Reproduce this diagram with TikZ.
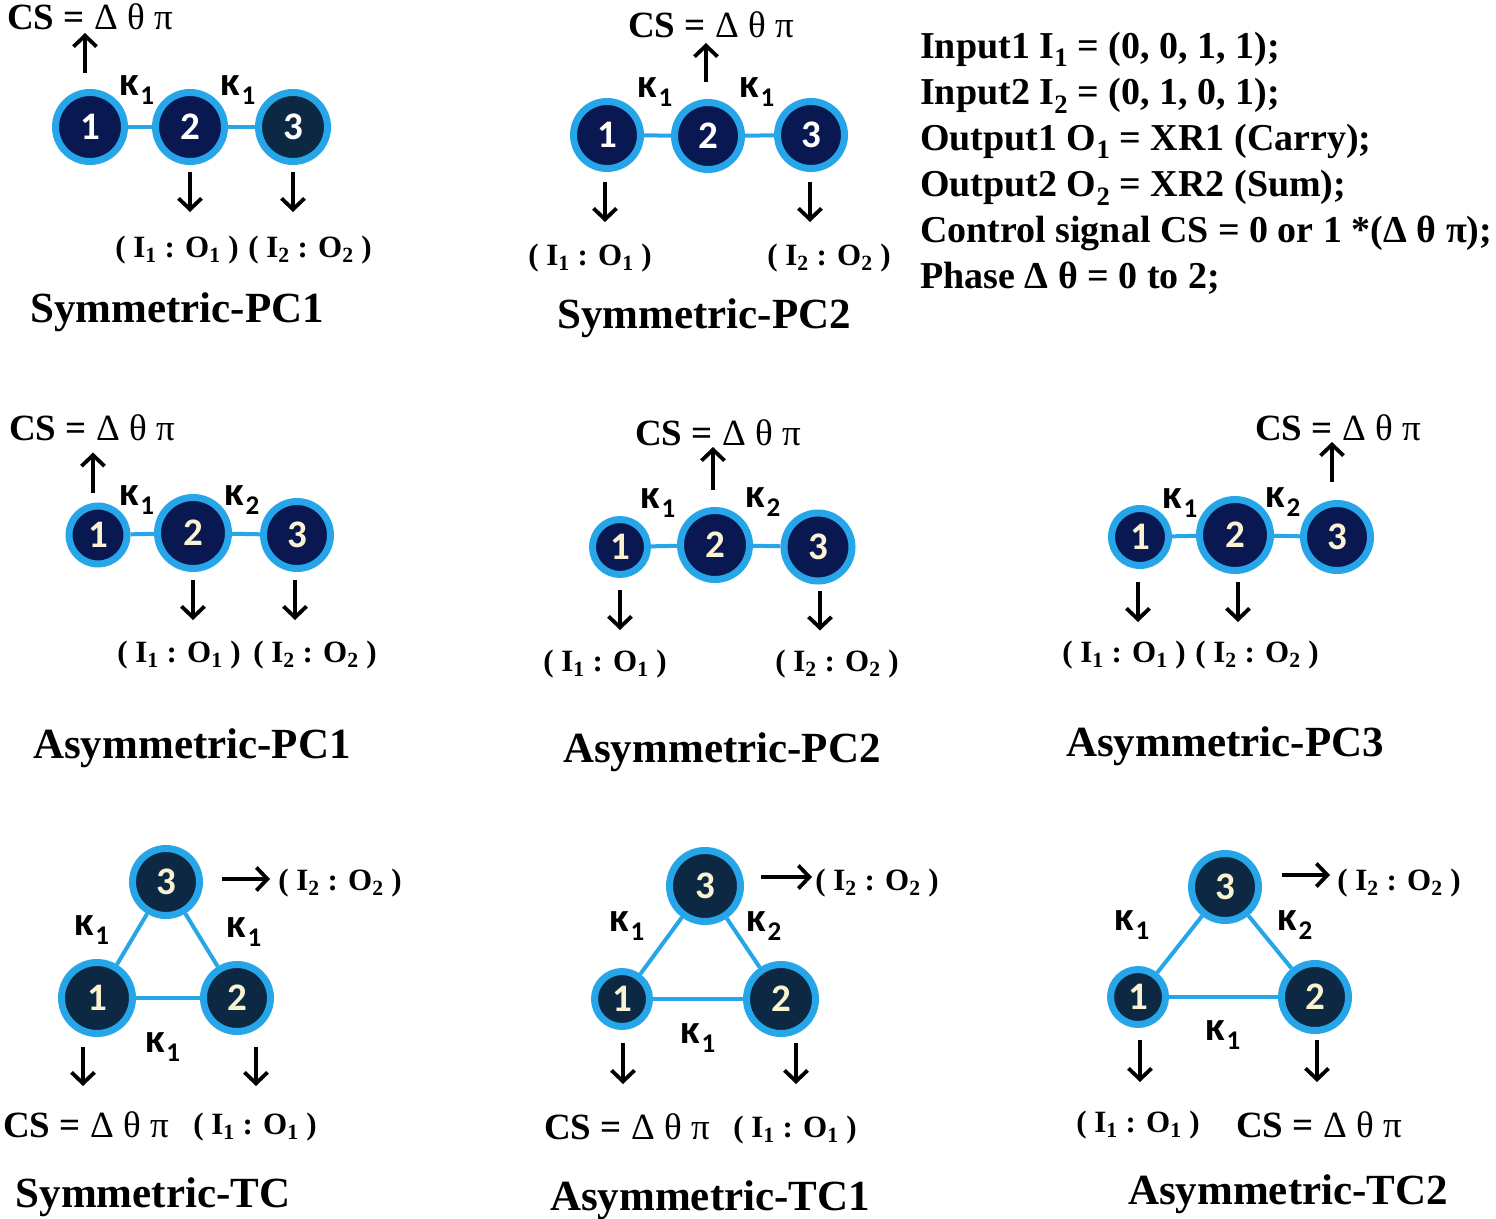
\documentclass[tikz,border=0pt]{standalone}
\usepackage{fontspec}
\setmainfont{Liberation Serif}
\newfontfamily\carl{Carlito}
\usetikzlibrary{arrows.meta}
\definecolor{ringblue}{RGB}{38,166,232}
\definecolor{navyA}{RGB}{10,24,82}
\definecolor{navyB}{RGB}{12,40,66}
\definecolor{creamT}{RGB}{250,242,208}
\newcommand{\kp}[1]{κ\hspace{1pt}\raisebox{-0.22em}{\fontsize{27}{27}\selectfont #1}}
\newcommand{\iol}[1]{( I\textsubscript{#1} : O\textsubscript{#1} )}
\newcommand{\csl}{CS = {\mdseries Δ θ π}}
\tikzset{
  res/.style={circle, draw=ringblue, line width=7pt, inner sep=0pt,
    font=\carl\bfseries\fontsize{39}{39}\selectfont},
  resA/.style={res, fill=navyA, text=white},
  resB/.style={res, fill=navyB, text=white},
  resC/.style={res, fill=navyA, text=creamT},
  resD/.style={res, fill=navyB, text=creamT},
  link/.style={draw=ringblue, line width=4pt},
  arr/.style={line width=3.8pt, -{Straight Barb[length=11pt,width=23pt]}},
  iolab/.style={inner sep=0pt, anchor=base, font=\bfseries\fontsize{31}{31}\selectfont},
  cslab/.style={inner sep=0pt, anchor=base, font=\bfseries\fontsize{37}{37}\selectfont},
  kaplab/.style={inner sep=0pt, font=\carl\bfseries\fontsize{41}{41}\selectfont},
  ttl/.style={inner sep=0pt, anchor=base, font=\bfseries\fontsize{43}{43}\selectfont},
  txt/.style={inner sep=0pt, anchor=base west, font=\bfseries\fontsize{38}{38}\selectfont},
}
\begin{document}
\begin{tikzpicture}[x=1pt,y=-1pt]
\useasboundingbox[fill=white] (0,0) rectangle (1496,1218);

% ---------------- Symmetric-PC1
\node[resA, minimum size=69pt] (a1) at (90,127) {1};
\node[resA, minimum size=69pt] (a2) at (190,127) {2};
\node[resB, minimum size=69pt] (a3) at (293,127) {3};
\draw[link] (a1) -- (a2);
\draw[link] (a2) -- (a3);
\draw[arr] (a1.north) ++(-5,-16) -- ++(0,-40);
\draw[arr] (a2.south) ++(0,7) -- ++(0,40);
\draw[arr] (a3.south) ++(0,7) -- ++(0,40);
\node[cslab] (acs) at (90,29) {\csl};
\node[kaplab] (ak1) at (137,90) {\kp1};
\node[kaplab] (ak2) at (238,90) {\kp1};
\node[iolab] (ao1) at (177,257) {\iol1};
\node[iolab] (ao2) at (310,257) {\iol2};
\node[ttl] (at) at (177,322) {Symmetric-PC1};

% ---------------- Symmetric-PC2
\node[resA, minimum size=67pt] (b1) at (607,135) {1};
\node[resA, minimum size=67pt] (b2) at (708,136) {2};
\node[resA, minimum size=67pt] (b3) at (811,135) {3};
\draw[link] (b1) -- (b2);
\draw[link] (b2) -- (b3);
\draw[arr] (b2.north) ++(-2,-17) -- ++(0,-39);
\draw[arr] (b1.south) ++(-2,10) -- ++(0,40);
\draw[arr] (b3.south) ++(-1,10) -- ++(0,40);
\node[cslab] (bcs) at (711,37) {\csl};
\node[kaplab] (bk1) at (655,92) {\kp1};
\node[kaplab] (bk2) at (757,92) {\kp1};
\node[iolab] (bo1) at (590,265) {\iol1};
\node[iolab] (bo2) at (829,265) {\iol2};
\node[ttl] (bt) at (704,328) {Symmetric-PC2};

% ---------------- legend text
\node[txt] (t1) at (920,58) {Input1 I\textsubscript{1} = (0, 0, 1, 1);};
\node[txt] (t2) at (920,104) {Input2 I\textsubscript{2} = (0, 1, 0, 1);};
\node[txt] (t3) at (920,150) {Output1 O\textsubscript{1} = XR1 (Carry);};
\node[txt] (t4) at (920,196) {Output2 O\textsubscript{2} = XR2 (Sum);};
\node[txt] (t5) at (920,242) {Control signal CS = 0 or 1 *(Δ θ π);};
\node[txt] (t6) at (920,288) {Phase Δ θ = 0 to 2;};

% ---------------- Asymmetric-PC1
\node[resC, minimum size=58pt] (c1) at (98,535) {1};
\node[resC, minimum size=71pt] (c2) at (193,533) {2};
\node[resC, minimum size=67pt] (c3) at (297,535) {3};
\draw[link] (c1) -- (c2);
\draw[link] (c2) -- (c3);
\draw[arr] (c1.north) ++(-5,-10) -- ++(0,-40);
\draw[arr] (c2.south) ++(0,8) -- ++(0,40);
\draw[arr] (c3.south) ++(-2,8) -- ++(0,40);
\node[cslab] (ccs) at (92,440) {\csl};
\node[kaplab] (ck1) at (137,500) {\kp1};
\node[kaplab] (ck2) at (242,500) {\kp2};
\node[iolab] (co1) at (179,662) {\iol1};
\node[iolab] (co2) at (315,662) {\iol2};
\node[ttl] (ct) at (192,758) {Asymmetric-PC1};

% ---------------- Asymmetric-PC2
\node[resC, minimum size=55pt] (d1) at (620,547) {1};
\node[resC, minimum size=69pt] (d2) at (715,545) {2};
\node[resC, minimum size=68pt] (d3) at (818,547) {3};
\draw[link] (d1) -- (d2);
\draw[link] (d2) -- (d3);
\draw[arr] (d2.north) ++(-2,-17) -- ++(0,-43);
\draw[arr] (d1.south) ++(0,12) -- ++(0,40);
\draw[arr] (d3.south) ++(2,6) -- ++(0,40);
\node[cslab] (dcs) at (718,445) {\csl};
\node[kaplab] (dk1) at (658,503) {\kp1};
\node[kaplab] (dk2) at (763,502) {\kp2};
\node[iolab] (do1) at (605,671) {\iol1};
\node[iolab] (do2) at (837,671) {\iol2};
\node[ttl] (dt) at (722,762) {Asymmetric-PC2};

% ---------------- Asymmetric-PC3
\node[resC, minimum size=57pt] (e1) at (1140,537) {1};
\node[resC, minimum size=71pt] (e2) at (1235,535) {2};
\node[resC, minimum size=67pt] (e3) at (1337,537) {3};
\draw[link] (e1) -- (e2);
\draw[link] (e2) -- (e3);
\draw[arr] (e3.north) ++(-5,-18) -- ++(0,-40);
\draw[arr] (e1.south) ++(-2,13) -- ++(0,40);
\draw[arr] (e2.south) ++(3,8) -- ++(0,40);
\node[cslab] (ecs) at (1338,440) {\csl};
\node[kaplab] (ek1) at (1180,503) {\kp1};
\node[kaplab] (ek2) at (1283,502) {\kp2};
\node[iolab] (eo1) at (1124,662) {\iol1};
\node[iolab] (eo2) at (1257,662) {\iol2};
\node[ttl] (et) at (1225,756) {Asymmetric-PC3};

% ---------------- Symmetric-TC
\node[resD, minimum size=67pt] (f3) at (166,882) {3};
\node[resD, minimum size=71pt] (f1) at (97,998) {1};
\node[resD, minimum size=67pt] (f2) at (237,998) {2};
\draw[link] (f1) -- (f3);
\draw[link] (f3) -- (f2);
\draw[link] (f1) -- (f2);
\draw[arr] (f3.east) ++(19,-3) -- ++(48,0);
\draw[arr] (f1.south) ++(-14,10) -- ++(0,39);
\draw[arr] (f2.south) ++(19,12) -- ++(0,39);
\node[iolab] (fo2) at (340,890) {\iol2};
\node[kaplab] (fk1) at (92,930) {\kp1};
\node[kaplab] (fk2) at (244,932) {\kp1};
\node[kaplab] (fk3) at (163,1047) {\kp1};
\node[cslab] (fcs) at (86,1137) {\csl};
\node[iolab] (fo1) at (255,1134) {\iol1};
\node[ttl] (ft) at (153,1207) {Symmetric-TC};

% ---------------- Asymmetric-TC1
\node[resD, minimum size=71pt] (g3) at (705,886) {3};
\node[resD, minimum size=55pt] (g1) at (622,999) {1};
\node[resD, minimum size=69pt] (g2) at (781,999) {2};
\draw[link] (g1) -- (g3);
\draw[link] (g3) -- (g2);
\draw[link] (g1) -- (g2);
\draw[arr] (g3.east) ++(17,-9) -- ++(51,0);
\draw[arr] (g1.south) ++(1,13) -- ++(0,41);
\draw[arr] (g2.south) ++(15,6) -- ++(0,41);
\node[iolab] (go2) at (877,890) {\iol2};
\node[kaplab] (gk1) at (627,926) {\kp1};
\node[kaplab] (gk2) at (764,926) {\kp2};
\node[kaplab] (gk3) at (698,1038) {\kp1};
\node[cslab] (gcs) at (627,1139) {\csl};
\node[iolab] (go1) at (795,1137) {\iol1};
\node[ttl] (gt) at (710,1210) {Asymmetric-TC1};

% ---------------- Asymmetric-TC2
\node[resD, minimum size=67pt] (h3) at (1225,887) {3};
\node[resD, minimum size=55pt] (h1) at (1138,997) {1};
\node[resD, minimum size=67pt] (h2) at (1315,997) {2};
\draw[link] (h1) -- (h3);
\draw[link] (h3) -- (h2);
\draw[link] (h1) -- (h2);
\draw[arr] (h3.east) ++(20,-12) -- ++(48,0);
\draw[arr] (h1.south) ++(2,12) -- ++(0,42);
\draw[arr] (h2.south) ++(2,6) -- ++(0,42);
\node[iolab] (ho2) at (1399,890) {\iol2};
\node[kaplab] (hk1) at (1132,925) {\kp1};
\node[kaplab] (hk2) at (1295,925) {\kp2};
\node[kaplab] (hk3) at (1223,1035) {\kp1};
\node[iolab] (ho1) at (1138,1132) {\iol1};
\node[cslab] (hcs) at (1319,1137) {\csl};
\node[ttl] (ht) at (1288,1204) {Asymmetric-TC2};
\end{tikzpicture}
\end{document}
